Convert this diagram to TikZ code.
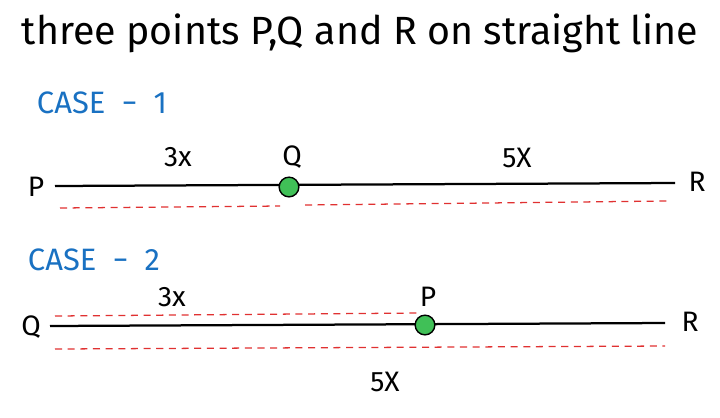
\documentclass[tikz,border=0pt]{standalone}
\usepackage{fontspec}
\setmainfont{Fira Sans}
\usepackage{tikz}
\usetikzlibrary{positioning}
\definecolor{caseblue}{HTML}{1971C2}
\definecolor{dotgreen}{HTML}{40C057}
\definecolor{guidered}{HTML}{E03131}
\tikzset{
    seg/.style={line width=1.6pt, black},
    guide/.style={guidered, line width=0.9pt, dash pattern=on 5pt off 4pt},
    pt/.style={circle, draw=black, fill=dotgreen, line width=1pt, inner sep=0pt, minimum width=14pt, minimum height=11pt},
    lbl/.style={font=\fontsize{20}{24}\selectfont},
    casetxt/.style={font=\fontsize{22}{26}\selectfont, text=caseblue}
}
\begin{document}
\begin{tikzpicture}[x=0.025cm,y=-0.025cm]
    \useasboundingbox (0,0) rectangle (720,417);
    \node[font=\fontsize{28}{32}\selectfont] (title) at (360,33) {three points P,Q and R on straight line};

    % case 1
    \node[casetxt, anchor=west] (case1) at (32,103) {CASE \ − \ 1};
    \node[lbl] (p1) at (36,187) {P};
    \node[lbl] (r1) at (697,182) {R};
    \coordinate (a1) at (55,186);
    \coordinate (b1) at (675,183);
    \draw[seg] (a1) -- (b1);
    \node[pt] (q1) at (289,187) {};
    \node[lbl] (q1lbl) at (292,157) {Q};
    \node[lbl] (x1) at (178,157) {3x};
    \node[lbl] (y1) at (517,158) {5X};
    \coordinate (d1) at (60,208);
    \coordinate (d2) at (280,206);
    \coordinate (d3) at (305,205);
    \coordinate (d4) at (668,201);
    \draw[guide] (d1) -- (d2);
    \draw[guide] (d3) -- (d4);

    % case 2
    \node[casetxt, anchor=west] (case2) at (23,260) {CASE \ − \ 2};
    \node[lbl] (q2) at (31,327) {Q};
    \node[lbl] (r2) at (690,322) {R};
    \coordinate (a2) at (50,326);
    \coordinate (b2) at (665,323);
    \draw[seg] (a2) -- (b2);
    \node[pt] (p2) at (425,325) {};
    \node[lbl] (p2lbl) at (428,297) {P};
    \node[lbl] (x2) at (172,297) {3x};
    \node[lbl] (y2) at (385,382) {5X};
    \coordinate (e1) at (55,316);
    \coordinate (e2) at (420,313);
    \coordinate (e3) at (55,349);
    \coordinate (e4) at (665,346);
    \draw[guide] (e1) -- (e2);
    \draw[guide] (e3) -- (e4);
\end{tikzpicture}
\end{document}
